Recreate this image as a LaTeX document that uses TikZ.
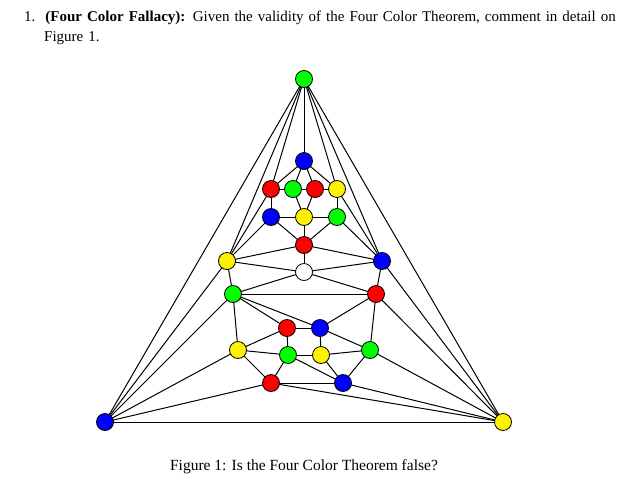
\documentclass[tikz,border=0pt]{standalone}
\usepackage{fontspec}
\setmainfont{Liberation Serif}
\begin{document}
\begin{tikzpicture}[x=1pt,y=-1pt,
  v/.style={circle,draw=black,line width=0.8pt,minimum size=17pt,inner sep=0pt},
  e/.style={line width=1pt}]
\useasboundingbox (0,0) rectangle (640,491);
\fill[white] (0,0) rectangle (640,491);
\node[anchor=north west,inner sep=0pt,text width=620pt,align=left,font=\fontsize{15}{20}\selectfont] (hd) at (24,11)
 {1.\ \ \textbf{(Four Color Fallacy):} Given the validity of the Four Color Theorem, comment in detail on\\\hspace*{20pt}Figure 1.};
\node[font=\fontsize{15.5}{16}\selectfont] (cap) at (304,467) {Figure 1: Is the Four Color Theorem false?};
\foreach \n/\x/\y/\c in {T/304/79/green, B/304/161/blue, R1/271/189/red, G1/293/189/green, R2/315/189/red, Y1/337/189/yellow,
 B1/271/217/blue, Y2/304/217/yellow, G2/337/217/green, R3/304/245/red, Y3/227/261/yellow, Bt/382/261/blue, W/304/272/white,
 G3/233/294/green, R4/376/294/red, R5/287/328/red, B4/320/328/blue, Y4/238/350/yellow, G4/288/355/green, Y5/321/355/yellow,
 G5/370/350/green, R6/271/383/red, B5/343/383/blue, BL/105/422/blue, BR/503/422/yellow}
  \coordinate (\n) at (\x,\y);
\foreach \a/\b in {T/B,T/R1,T/Y1,T/Y3,T/Bt,T/BL,T/BR,
 B/R1,B/G1,B/R2,B/Y1,R1/G1,G1/R2,R2/Y1,R1/B1,Y1/G2,G1/Y2,R2/Y2,B1/Y2,Y2/G2,B1/R3,G2/R3,Y2/R3,
 Y3/R1,Y3/B1,Y3/R3,Y3/W,Y3/G3,Y3/BL,Bt/Y1,Bt/G2,Bt/R3,Bt/W,Bt/R4,Bt/BR,R3/W,W/G3,W/R4,
 G3/R4,G3/R5,G3/B4,G3/Y4,G3/BL,R4/B4,R4/G5,R4/BR,
 R5/B4,R5/Y4,R5/G4,B4/Y5,B4/G5,Y4/G4,Y4/R6,Y4/BL,G4/Y5,G4/R6,G4/B5,Y5/G5,Y5/B5,G5/B5,G5/BR,
 R6/B5,R6/BL,R6/BR,B5/BR,BL/BR}
  \draw[e] (\a) -- (\b);
\foreach \n/\x/\y/\c in {T/304/79/green, B/304/161/blue, R1/271/189/red, G1/293/189/green, R2/315/189/red, Y1/337/189/yellow,
 B1/271/217/blue, Y2/304/217/yellow, G2/337/217/green, R3/304/245/red, Y3/227/261/yellow, Bt/382/261/blue, W/304/272/white,
 G3/233/294/green, R4/376/294/red, R5/287/328/red, B4/320/328/blue, Y4/238/350/yellow, G4/288/355/green, Y5/321/355/yellow,
 G5/370/350/green, R6/271/383/red, B5/343/383/blue, BL/105/422/blue, BR/503/422/yellow}
  \node[v,fill=\c] (n\n) at (\x,\y) {};
\end{tikzpicture}
\end{document}
